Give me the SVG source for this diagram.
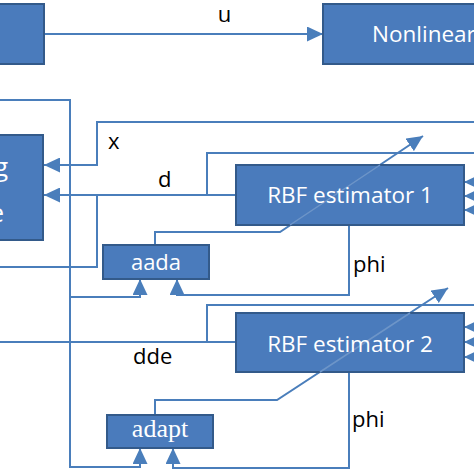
<svg xmlns="http://www.w3.org/2000/svg" width="474" height="474" viewBox="0 0 474 474">
<defs>
<marker id="ah" markerUnits="userSpaceOnUse" markerWidth="16" markerHeight="15" refX="16" refY="7.5" orient="auto" viewBox="0 0 16 15">
<path d="M0,0 L16,7.5 L0,15 z" fill="#4A7EBB"/>
</marker>
<style>
.ln{fill:none;stroke:#4A7EBB;stroke-width:2}
.ar{marker-end:url(#ah)}
.box{fill:#4A7BBC;stroke:#335A8A;stroke-width:2}
.faint{fill:none;stroke:#6D95C8;stroke-width:1.5}
.bt{font-family:"Open Sans","Liberation Sans",sans-serif;fill:#ffffff}
.lb{font-family:"Open Sans","Liberation Sans",sans-serif;fill:#000000;font-size:22px}
</style>
</defs>
<rect width="474" height="474" fill="#ffffff"/>
<g id="connectors">
<path class="ln ar" d="M44,34 H323"/>
<path class="ln ar" d="M0,100 H70 V467 H140 V448"/>
<path class="ln ar" d="M70,297 H140 V279"/>
<path class="ln ar" d="M474,122 H97 V165 H44"/>
<path class="ln ar" d="M236,195 H44"/>
<path class="ln" d="M474,153 H207 V195"/>
<path class="ln" d="M97,195 V267 H0"/>
<path class="ln ar" d="M155,245 V232 H280 L423,136"/>
<path class="ln ar" d="M349,225 V295 H177 V279"/>
<path class="ln ar" d="M474,182 H464"/>
<path class="ln ar" d="M474,196 H464"/>
<path class="ln ar" d="M474,210 H464"/>
<path class="ln" d="M236,342 H0"/>
<path class="ln" d="M474,305 H207 V342"/>
<path class="ln ar" d="M155,415 V400 H277 L448,288"/>
<path class="ln ar" d="M349,372 V468 H173 V448"/>
<path class="ln ar" d="M474,327 H464"/>
<path class="ln ar" d="M474,342 H464"/>
<path class="ln ar" d="M474,357 H464"/>
</g>
<g id="labels">
<text class="lb" x="224.5" y="22" text-anchor="middle">u</text>
<text class="lb" x="108" y="149">x</text>
<text class="lb" x="158" y="187">d</text>
<text class="lb" x="353" y="272">phi</text>
<text class="lb" x="133" y="364">dde</text>
<text class="lb" x="352" y="427">phi</text>
</g>
<g id="node-controller">
<rect class="box" x="-10" y="4" width="54" height="60"/>
</g>
<g id="node-nonlinear">
<rect class="box" x="323" y="4" width="161" height="60"/>
<text class="bt" x="372" y="42" font-size="22.5">Nonlinear</text>
</g>
<g id="node-left">
<rect class="box" x="-10" y="135" width="53" height="105"/>
<text class="bt" x="8" y="176" font-size="26" text-anchor="end">g</text>
<text class="bt" x="4" y="222" font-size="26" text-anchor="end">e</text>
</g>
<g id="node-rbf1">
<rect class="box" x="236" y="165" width="228" height="60"/>
<path class="faint" d="M290,225 L380,165"/>
<text class="bt" x="350" y="203" font-size="22.5" text-anchor="middle">RBF estimator 1</text>
</g>
<g id="node-aada">
<rect class="box" x="103" y="245" width="106" height="34"/>
<text class="bt" x="156" y="270" font-size="22" text-anchor="middle">aada</text>
</g>
<g id="node-rbf2">
<rect class="box" x="236" y="313" width="228" height="59"/>
<path class="faint" d="M320,372 L410,313"/>
<text class="bt" x="350" y="352" font-size="22.5" text-anchor="middle">RBF estimator 2</text>
</g>
<g id="node-adapt">
<rect class="box" x="107" y="415" width="106" height="33"/>
<text class="bt" x="160" y="437" font-size="26" text-anchor="middle" style="font-family:'Liberation Serif',serif">adapt</text>
</g>
</svg>
